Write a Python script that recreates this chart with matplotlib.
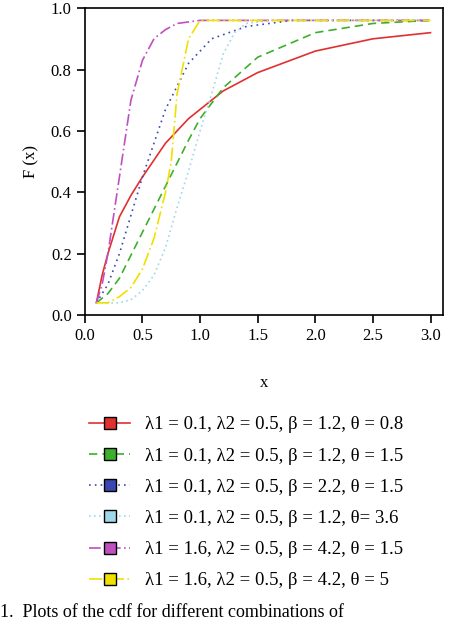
import matplotlib
matplotlib.use("Agg")
import matplotlib.pyplot as plt
from matplotlib.lines import Line2D

plt.rcParams["font.family"] = ["Liberation Serif", "DejaVu Serif"]

# values (x, F(x))
red_x = [0.1, 0.15, 0.2, 0.3, 0.4, 0.5, 0.7, 0.9, 1.0, 1.2, 1.5, 2.0, 2.5, 3.0]
red_y = [0.04, 0.13, 0.2, 0.32, 0.39, 0.45, 0.56, 0.64, 0.67, 0.73, 0.79, 0.86, 0.9, 0.92]
green_x = [0.1, 0.2, 0.3, 0.5, 0.7, 0.9, 1.0, 1.2, 1.5, 2.0, 2.5, 3.0]
green_y = [0.04, 0.07, 0.12, 0.27, 0.42, 0.57, 0.64, 0.74, 0.84, 0.92, 0.95, 0.96]
blue_x = [0.1, 0.2, 0.3, 0.5, 0.7, 0.9, 1.1, 1.4, 1.8, 2.4, 3.0]
blue_y = [0.04, 0.1, 0.2, 0.45, 0.67, 0.82, 0.9, 0.94, 0.96, 0.96, 0.96]
cyan_x = [0.1, 0.3, 0.4, 0.5, 0.6, 0.7, 0.8, 0.9, 1.0, 1.1, 1.2, 1.3, 1.4, 1.6, 3.0]
cyan_y = [0.04, 0.04, 0.05, 0.08, 0.13, 0.22, 0.35, 0.47, 0.6, 0.72, 0.85, 0.92, 0.95, 0.96, 0.96]
mag_x = [0.1, 0.15, 0.2, 0.3, 0.4, 0.5, 0.6, 0.7, 0.8, 1.0, 3.0]
mag_y = [0.04, 0.1, 0.2, 0.45, 0.7, 0.83, 0.9, 0.93, 0.95, 0.96, 0.96]
yel_x = [0.1, 0.2, 0.3, 0.4, 0.5, 0.6, 0.7, 0.75, 0.8, 0.9, 1.0, 1.2, 3.0]
yel_y = [0.04, 0.04, 0.06, 0.09, 0.15, 0.25, 0.4, 0.5, 0.72, 0.9, 0.96, 0.96, 0.96]

labels = [
    "λ1 = 0.1, λ2 = 0.5, β = 1.2, θ = 0.8",
    "λ1 = 0.1, λ2 = 0.5, β = 1.2, θ = 1.5",
    "λ1 = 0.1, λ2 = 0.5, β = 2.2, θ = 1.5",
    "λ1 = 0.1, λ2 = 0.5, β = 1.2, θ= 3.6",
    "λ1 = 1.6, λ2 = 0.5, β = 4.2, θ = 1.5",
    "λ1 = 1.6, λ2 = 0.5, β = 4.2, θ = 5",
]
colors = ["#e03030", "#3cb02c", "#3a48b0", "#9ed8ea", "#c050c0", "#f0e000"]
styles = ["-", (0, (5, 3)), (0, (1, 2.5)), (0, (1, 2)), (0, (7, 2, 1, 2)), (0, (8, 2, 1, 2))]
series = [(red_x, red_y), (green_x, green_y), (blue_x, blue_y),
          (cyan_x, cyan_y), (mag_x, mag_y), (yel_x, yel_y)]

fig = plt.figure(figsize=(4.74, 6.24), dpi=100)
ax = fig.add_axes([0.179, 0.495, 0.756, 0.492])
for (xs, ys), c, ls in zip(series, colors, styles):
    ax.plot(xs, ys, color=c, linestyle=ls, lw=1.2)

ax.set_xlim(0, 3.11)
ax.set_ylim(0, 1.0)
ax.set_xticks([0, 0.5, 1, 1.5, 2, 2.5, 3])
ax.set_yticks([0, 0.2, 0.4, 0.6, 0.8, 1.0])
ax.xaxis.set_major_formatter(plt.FormatStrFormatter("%.1f"))
ax.yaxis.set_major_formatter(plt.FormatStrFormatter("%.1f"))
ax.tick_params(labelsize=12, direction="out", length=6, width=1.2)
for s in ax.spines.values():
    s.set_linewidth(1.2)
ax.set_xlabel("x", fontsize=12, labelpad=22)
ax.set_ylabel("F (x)", fontsize=12, labelpad=8)

handles = [Line2D([0], [0], color=c, linestyle=ls, lw=1.2, marker="s", markersize=9,
                  markerfacecolor=c, markeredgecolor="black")
           for c, ls in zip(colors, styles)]
fig.legend(handles, labels, loc="upper center", bbox_to_anchor=(0.52, 0.36),
           frameon=False, fontsize=13.5, handlelength=2.2, labelspacing=0.75)

fig.text(0.0, 0.018, "1.  Plots of the cdf for different combinations of", fontsize=13,
         va="center", ha="left")

fig.savefig("out.png", dpi=100)
